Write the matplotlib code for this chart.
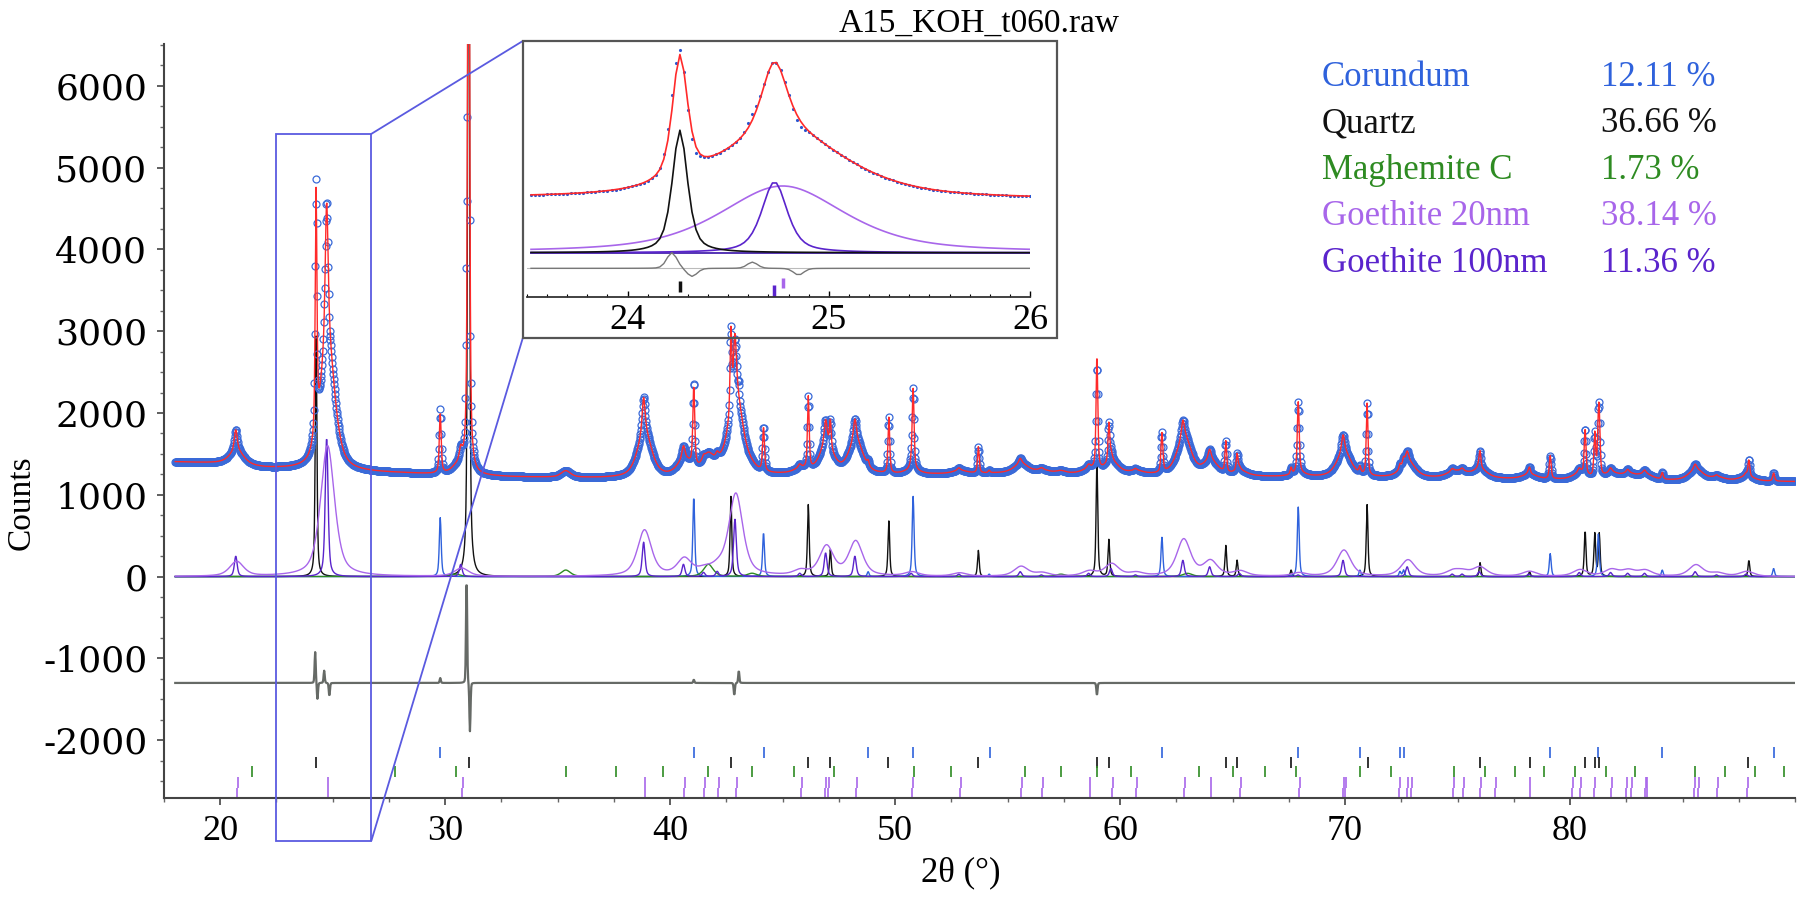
import numpy as np
import matplotlib.pyplot as plt
from matplotlib.patches import Rectangle, ConnectionPatch

plt.rcParams['font.family'] = ['Liberation Serif', 'DejaVu Serif']
plt.rcParams['axes.unicode_minus'] = False

title = "A15_KOH_t060.raw"
phase_names = ["Corundum", "Quartz", "Maghemite C", "Goethite 20nm", "Goethite 100nm"]
phase_wt = ["12.11 %", "36.66 %", "1.73 %", "38.14 %", "11.36 %"]
c_cor, c_qtz, c_mag, c_g20, c_g100 = '#2f62dc', '#111111', '#2e8b22', '#a866ea', '#5a24cc'

# scan grid (step 0.02 deg)
two_theta = np.arange(18.0, 90.0, 0.02)

# background knots
bg_tt = [18, 20, 22, 24, 26, 28, 30, 33, 37, 41, 45, 50, 55, 60, 65, 70, 75, 80, 85, 90]
bg_counts = [1400, 1380, 1320, 1290, 1270, 1260, 1240, 1215, 1200, 1200, 1230, 1240, 1260, 1240,
             1220, 1210, 1200, 1180, 1170, 1160]

# peak tables: position (deg 2theta), net height (counts)
quartz_pos = [24.26, 31.04, 42.70, 46.14, 47.12, 49.72, 53.70, 58.97, 59.50, 64.70, 65.20, 67.60,
              70.98, 76.00, 78.20, 80.67, 81.10, 81.30, 87.95]
quartz_hgt = [2940, 11000, 980, 880, 330, 680, 320, 1400, 450, 380, 200, 80,
              880, 170, 60, 560, 520, 520, 200]

corundum_pos = [29.78, 41.05, 44.15, 48.80, 50.80, 54.18, 61.86, 67.92, 70.66, 72.44, 72.60,
                79.12, 81.26, 84.10, 89.05]
corundum_hgt = [720, 980, 540, 60, 980, 30, 480, 850, 80, 60, 80,
                280, 520, 80, 100]

maghemite_pos = [30.46, 35.36, 41.70, 43.64, 57.37, 63.00]
maghemite_hgt = [30, 80, 150, 40, 30, 40]

goethite_pos = [20.73, 24.77, 30.73, 38.86, 40.63, 41.52, 42.13, 42.92, 45.80, 46.95, 48.25,
                50.75, 52.87, 55.60, 56.54, 58.64, 59.63, 60.72, 62.83, 64.02, 65.34, 67.95,
                69.95, 72.80, 74.80, 75.24, 76.00, 78.20, 80.45, 81.84, 82.60, 83.35, 85.60,
                86.55, 87.86]
goe20_hgt = [180, 1600, 100, 560, 200, 60, 80, 1000, 60, 360, 420,
             50, 40, 120, 40, 60, 150, 40, 450, 180, 60, 40,
             320, 200, 60, 50, 110, 60, 80, 80, 70, 70, 140,
             40, 60]
goe100_hgt = [250, 1700, 150, 420, 150, 50, 60, 700, 40, 290, 250,
              40, 30, 60, 20, 40, 100, 20, 200, 120, 40, 20,
              200, 120, 30, 30, 60, 30, 50, 50, 40, 40, 60,
              20, 30]
goe100_shift = -0.04

# misfit (obs - calc) features
misfit_pos = [24.22, 24.32, 24.62, 24.85, 29.78, 30.95, 31.10, 41.05, 42.85, 43.05, 58.97]
misfit_amp = [380, -200, 150, -160, 60, 1300, -600, 40, -150, 150, -150]

fwhm = {'qtz': 0.09, 'cor': 0.10, 'mag': 0.50, 'g20': 0.74, 'g100': 0.15}

# reflection positions (tick marks)
corundum_ticks = [29.78, 41.05, 44.15, 48.8, 50.8, 54.2, 61.86, 67.9, 70.66, 72.44, 72.6, 79.1,
                  81.26, 84.1, 89.05]
quartz_ticks = [24.26, 31.04, 42.7, 46.14, 47.1, 49.7, 53.7, 58.96, 59.5, 64.7, 65.2, 67.6, 71.0,
                76.0, 78.2, 80.67, 81.1, 81.3, 87.9]
maghemite_ticks = [21.4, 27.76, 30.46, 35.36, 37.6, 39.7, 41.68, 43.64, 45.5, 47.3, 50.84, 52.5,
                   55.78, 57.37, 58.96, 60.5, 63.5, 65.0, 66.43, 67.8, 70.66, 72.05, 74.85, 76.2,
                   77.54, 78.86, 80.24, 81.6, 82.9, 85.57, 86.9, 88.2, 89.5]
goethite_ticks = [20.73, 24.77, 30.73, 38.86, 40.63, 41.52, 42.13, 42.92, 45.8, 46.9, 47.03, 48.25,
                  50.75, 52.87, 55.6, 56.54, 58.64, 59.63, 60.72, 62.83, 64.02, 65.34, 67.95,
                  69.93, 70.0, 72.4, 72.77, 72.95, 74.8, 75.24, 76.0, 76.65, 78.2, 80.07, 80.45,
                  81.06, 81.84, 82.5, 82.7, 83.33, 83.4, 85.5, 85.7, 86.55, 87.86]


def profile(x, pos, hgt, w, eta=0.6):
    out = np.zeros_like(x)
    for p, h in zip(pos, hgt):
        d = (x - p) / (w / 2)
        out += h * (eta / (1 + d ** 2) + (1 - eta) * np.exp(-np.log(2) * d ** 2))
    return out


def curves(x):
    q = profile(x, quartz_pos, quartz_hgt, fwhm['qtz'])
    c = profile(x, corundum_pos, corundum_hgt, fwhm['cor'])
    m = profile(x, maghemite_pos, maghemite_hgt, fwhm['mag'])
    g20 = profile(x, goethite_pos, goe20_hgt, fwhm['g20'])
    g100 = profile(x, np.array(goethite_pos) + goe100_shift, goe100_hgt, fwhm['g100'])
    bg = np.interp(x, bg_tt, bg_counts)
    calc = bg + q + c + m + g20 + g100
    mis = profile(x, misfit_pos, misfit_amp, 0.06, eta=0.2)
    return q, c, m, g20, g100, calc, calc + mis, mis


q, c, m, g20, g100, calc, obs, mis = curves(two_theta)

fig = plt.figure(figsize=(18, 8.97), dpi=100)
W, H = 1800, 897
ax = fig.add_axes([164 / W, 1 - 798.3 / H, 1631 / W, (798.3 - 44) / H])

ax.plot(two_theta, q, color=c_qtz, lw=1.0)
ax.plot(two_theta, c, color=c_cor, lw=1.0)
ax.plot(two_theta, m, color=c_mag, lw=1.0)
ax.plot(two_theta, g100, color=c_g100, lw=1.0)
ax.plot(two_theta, g20, color=c_g20, lw=1.0)
ax.plot(two_theta, mis - 1300, color='#666a66', lw=1.6)
ax.plot(two_theta, obs, 'o', ms=5, mfc='none', mec='#3a6ad8', mew=0.9)
ax.plot(two_theta, calc, color='#ff2a2a', lw=1.0)

ax.vlines(corundum_ticks, -2080, -2220, color=c_cor, lw=1.2)
ax.vlines(quartz_ticks, -2200, -2340, color=c_qtz, lw=1.2)
ax.vlines(maghemite_ticks, -2320, -2450, color=c_mag, lw=1.2)
ax.vlines(np.array(goethite_ticks) + 0.04, -2450, -2580, color=c_g20, lw=1.2)
ax.vlines(goethite_ticks, -2580, -2710, color=c_g20, lw=1.2)

ax.set_xlim(18, 90)
ax.set_ylim(-2710, 6510)
ax.set_xticks([20, 30, 40, 50, 60, 70, 80])
ax.set_xticks(np.arange(17.5, 90.1, 2.5), minor=True)
ax.set_yticks(np.arange(-2000, 6001, 1000))
ax.set_yticks(np.arange(-2500, 6501, 250), minor=True)
for s in ['top', 'right']:
    ax.spines[s].set_visible(False)
for s in ['left', 'bottom']:
    ax.spines[s].set_color('#444444')
    ax.spines[s].set_linewidth(1.5)
ax.tick_params(which='major', direction='out', length=5, width=1.2, color='#444444', pad=7)
ax.tick_params(which='minor', direction='out', length=3, width=1.0, color='#666666')
ax.tick_params(axis='x', labelsize=26)
ax.tick_params(axis='y', labelsize=26)
for lab in ax.get_yticklabels():
    lab.set_family('DejaVu Serif')

ax.set_xlabel("2θ (°)", fontsize=25)
ax.xaxis.set_label_coords((961 - 164) / 1631, -(856 - 798.3) / 754.3)
ax.set_ylabel("Counts", fontsize=24)
ax.yaxis.set_label_coords((37 - 164) / 1631, (798.3 - 503) / 754.3)
ax.set_title(title, fontsize=24, pad=9)

# phase legend
for i, (nm, wt, col) in enumerate(zip(phase_names, phase_wt, [c_cor, c_qtz, c_mag, c_g20, c_g100])):
    yb = 1 - (86 + 46.4 * i) / H
    fig.text(1322 / W, yb, nm, color=col, fontsize=25, va='baseline')
    fig.text(1601 / W, yb, wt, color=col, fontsize=25, va='baseline')

# zoom box on main plot
zoom_col = '#5a5ae0'
ax.add_patch(Rectangle((22.5, -3227), 4.22, 5412 + 3227, fill=False, ec=zoom_col, lw=1.3,
                       clip_on=False, zorder=5))
for xa, ya, xb, yb in [(26.72, 5412, 522.8, 41), (26.72, -3227, 522.8, 338)]:
    con = ConnectionPatch(xyA=(xa, ya), coordsA=ax.transData,
                          xyB=(xb / W, 1 - yb / H), coordsB=fig.transFigure,
                          color=zoom_col, lw=1.3)
    fig.add_artist(con)

# inset
fig.add_artist(Rectangle((522.8 / W, 1 - 338 / H), (1056.5 - 522.8) / W, (338 - 41) / H,
                         transform=fig.transFigure, fill=False, ec='#555555', lw=1.6))
axi = fig.add_axes([527 / W, 1 - 296.7 / H, (1030 - 527) / W, (296.7 - 44) / H])
axi.patch.set_alpha(0)
sel = (two_theta >= 23.5) & (two_theta <= 26.0)
xi = two_theta[sel]
axi.plot(xi, m[sel], color=c_mag, lw=1.2)
axi.plot(xi, g20[sel], color=c_g20, lw=1.2)
axi.plot(xi, c[sel], color=c_g100, lw=1.2)
axi.plot(xi, g100[sel], color=c_g100, lw=1.2)
axi.plot(xi, q[sel], color=c_qtz, lw=1.2)
axi.axhline(-375, color='#bbbbbb', lw=0.8)
axi.plot(xi, mis[sel] - 375, color='#777777', lw=1.0)
axi.plot(xi, obs[sel], '.', ms=2.5, color='#2a55d0')
axi.plot(xi, calc[sel], color='#ff2a2a', lw=1.2)
axi.vlines([p for p in quartz_ticks if 23.5 < p < 26], -670, -935, color=c_qtz, lw=2.5)
axi.vlines([p + goe100_shift for p in goethite_ticks if 23.5 < p < 26], -775, -1056,
           color=c_g100, lw=2.5)
axi.vlines([p for p in goethite_ticks if 23.5 < p < 26], -605, -845, color=c_g20, lw=2.5)
axi.set_xlim(23.5, 26.0)
axi.set_ylim(-1056, 5010)
axi.set_yticks([])
axi.set_xticks([24, 25, 26])
axi.set_xticks(np.arange(23.5, 26.01, 0.1), minor=True)
for s in ['top', 'right', 'left']:
    axi.spines[s].set_visible(False)
axi.spines['bottom'].set_color('#333333')
axi.spines['bottom'].set_linewidth(1.3)
axi.tick_params(which='major', direction='in', length=4, width=1.0, labelsize=26, pad=5)
axi.tick_params(which='minor', direction='in', length=2.5, width=0.8)

plt.savefig('out.png', dpi=100)
